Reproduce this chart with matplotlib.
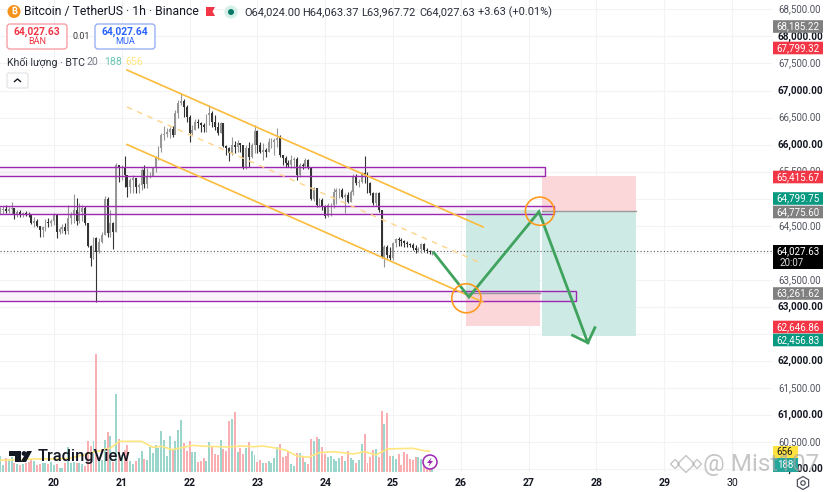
import numpy as np
import matplotlib
matplotlib.use("Agg")
import matplotlib.pyplot as plt
from matplotlib.patches import Rectangle, Ellipse, Circle, FancyBboxPatch, Polygon, RegularPolygon

plt.rcParams['font.family'] = ['Roboto', 'DejaVu Sans']

# hourly candles
closes = [64791,64816,64779,64804,64822,64699,64754,64705,64742,64718,
          64693,64545,64594,64496,64422,64471,64576,64545,64594,64699,
          64391,64434,64471,64397,64637,64699,64791,64594,64761,64822,
          64545,64126,63898,64268,64021,64206,64329,64989,64360,64545,
          64391,65623,65561,65561,65438,65223,65346,65377,65223,65253,
          65531,65272,65407,65420,65561,65746,65931,66177,66196,66239,
          66282,66177,66578,66763,66812,66701,66516,66208,66270,66424,
          66393,66362,66331,66547,66578,66424,66331,66220,66393,65974,
          65931,65839,65993,65962,66024,65993,65593,65932,65778,65993,
          66258,65993,65870,65901,65870,66055,66055,66086,66116,65808,
          65747,65654,65624,65716,65728,65439,65624,65605,65716,65562,
          64989,65192,64884,64977,64854,64681,64884,64884,65131,65162,
          65162,65038,65068,64945,65130,65407,65296,65315,65469,65438,
          65284,65099,64914,65099,64791,63929,64114,63960,63898,64175,
          64249,64237,64224,64187,64163,64151,64083,64052,64064,64157,
          64052,64040,64015,64027]
highs = [64853,64865,64884,64853,64945,64822,64791,64791,64761,64779,
         64754,64718,64656,64619,64496,64496,64619,64637,64631,64730,
         64557,64471,64526,64557,64884,64761,65087,65007,64927,64884,
         64865,64557,64145,64299,64299,64268,64391,65050,65025,64791,
         64576,65666,65623,65623,65789,65346,65377,65438,65377,65284,
         65561,65623,65561,65500,65580,65789,65974,66208,66344,66301,
         66319,66344,66639,66824,66947,66837,66732,66547,66362,66467,
         66467,66424,66393,66565,66732,66627,66547,66424,66424,66393,
         65993,65962,66147,66073,66086,66036,65993,65993,66055,66024,
         66363,66270,66055,66024,65932,66116,66116,66116,66301,66178,
         65808,65792,65716,65808,65778,65778,65654,65654,65747,65728,
         65562,65211,65192,65008,65008,64884,64915,64928,65192,65192,
         65192,65204,65099,65130,65161,65456,65456,65358,65500,65789,
         65500,65315,65130,65130,65130,64791,64144,64144,64114,64206,
         64268,64286,64268,64237,64224,64187,64175,64144,64114,64175,
         64187,64083,64052,64040]
lows = [64718,64718,64730,64742,64718,64619,64668,64668,64668,64681,
        64668,64533,64483,64471,64286,64286,64410,64471,64496,64514,
        64268,64348,64360,64348,64348,64533,64557,64514,64545,64594,
        64514,64101,63757,63886,63097,64003,64175,64329,64286,64299,
        64065,64391,65315,65346,65223,65038,65099,65099,65099,65112,
        65161,65192,65192,65377,65438,65500,65715,65869,66085,66147,
        66116,66134,66301,66485,66732,66516,66424,66054,66177,66270,
        66301,66239,66239,66239,66362,66331,66270,66177,66208,65962,
        65808,65703,65808,65839,65870,65870,65544,65544,65593,65747,
        65839,65852,65839,65716,65778,65870,65932,65808,65962,65778,
        65624,65580,65580,65562,65562,65346,65408,65544,65562,65544,
        64977,64964,64854,64841,64792,64638,64656,64681,64823,64900,
        65008,65007,64730,64914,64945,65068,65253,65222,65284,65284,
        65099,65068,64884,64865,64760,63898,63732,63898,63867,63867,
        64114,64126,64126,64114,64114,64101,64052,64003,64021,64003,
        64021,64003,63978,63966]
volumes = [400,187,357,298,383,238,213,170,213,238,
           255,340,272,187,213,238,238,213,255,170,
           213,110,102,238,638,238,255,238,238,213,
           153,782,672,799,3018,298,298,825,1020,927,
           255,1989,850,442,570,697,289,213,272,366,
           544,340,315,638,485,680,612,1037,808,400,
           927,570,799,1063,1335,740,544,799,502,502,
           255,289,357,289,765,638,468,442,808,587,
           536,1309,1352,1522,502,612,459,604,765,544,
           425,264,306,221,238,272,221,349,646,714,
           374,408,527,204,162,485,485,374,255,204,
           842,791,884,842,646,459,374,408,340,272,
           357,408,272,527,357,306,238,306,714,961,
           238,374,561,578,374,1564,1233,1505,408,408,
           323,459,179,510,451,332,306,391,374,340,
           306,119,68,188]
opens = [64790] + closes[:-1]

ma_hours = [0,12,24,39,41,42,50,54,57,61,68,73,81,85,90,93,98,101,105,109,113,118,125,129,133,137,146,150,152]
ma_vals = [298,332,340,612,722,782,782,629,655,570,680,655,638,663,646,663,604,561,408,374,493,519,459,519,434,587,604,544,527]

day_hours = [19,43,67,91,115,139,163,187,211,235,259]
day_labels = ['20','21','22','23','24','25','26','27','28','29','30']
price_ticks = [68500,68000,67500,67000,66500,66000,65500,65000,64500,64000,63500,63000,62500,62000,61500,61000,60500,60000]
covered_ticks = [65000,64000,62500]  # sit fully behind the price tags

last_price = 64027.63
entry_long, stop_long, target_long = 63261.62, 62646.86, 64799.75
entry_short, stop_short, target_short = 64775.60, 65415.67, 62456.83

zones = [(65586,65420,192.8),(64860,64710,196),(63289,63116,203.8)]
channel_start, channel_end = 44.85, 170.9
channel_top = [67379,64478]
channel_mid = [66695,63794]
channel_low = [66002,63091]
path_hours = [153.5,165.9,190.7,208.0]
path_prices = [64003,63184,64760,62339]
head_hours = [202.6,208.0,210.5]
head_prices = [62476,62339,62617]

W, H = 829, 492
PANE_R, PANE_B = 772, 472
fig = plt.figure(figsize=(W/100, H/100), dpi=100, facecolor='white')

ax = fig.add_axes([0, 1-PANE_B/H, PANE_R/W, PANE_B/H])
ax.set_xlim(-0.1, 273.2)
ax.set_ylim(67000-(PANE_B-90.5)*18.48, 67000+90.5*18.48)
ax.axis('off')
for t in price_ticks:
    ax.axhline(t, color='#f2f3f5', lw=0.8, zorder=0)
for d in day_hours:
    ax.axvline(d, color='#f2f3f5', lw=0.8, zorder=0)

# volume pane shares the x scale
vol = fig.add_axes(ax.get_position(), sharex=ax, facecolor='none')
vol.set_ylim(0, PANE_B*25.5)
vol.axis('off')
hours = np.arange(len(closes))
up = np.array(closes) >= np.array(opens)
vol.bar(hours, volumes, width=0.7, color=np.where(up, '#9ad6cc', '#f9aeb2'), zorder=1)
vol.plot(ma_hours, ma_vals, color='#ffe680', lw=1.2, zorder=2)

# position boxes
ax.add_patch(Rectangle((165, entry_long), 26, target_long-entry_long, fc='#cdeae4', ec='none', zorder=1))
ax.add_patch(Rectangle((165, stop_long), 26, entry_long-stop_long, fc='#fcd7da', ec='none', zorder=1))
ax.plot([165,191], [entry_long,entry_long], color='#9a9a9a', lw=1, zorder=1)
ax.add_patch(Rectangle((191.8, entry_short), 33.2, stop_short-entry_short, fc='#fcd7da', ec='none', zorder=1))
ax.add_patch(Rectangle((191.8, target_short), 33.2, entry_short-target_short, fc='#cdeae4', ec='none', zorder=1))
ax.plot([191.8,225], [entry_short,entry_short], color='#9a9a9a', lw=1, zorder=1)

# candles
colors = np.where(up, '#969696', '#333333')
ax.vlines(hours, lows, highs, colors=colors, lw=0.8, zorder=3)
ax.bar(hours, np.array(closes)-np.array(opens), bottom=opens, width=0.68, color=colors, zorder=3)

ax.axhline(last_price, color='#555555', lw=0.8, ls=(0,(1,2)), zorder=2)

# drawings
for top, bottom, right in zones:
    ax.add_patch(Rectangle((-5, bottom), right+5, top-bottom, fc='#9c27b0', alpha=0.05, ec='none', zorder=2))
    ax.add_patch(Rectangle((-5, bottom), right+5, top-bottom, fc='none', ec='#9c27b0', lw=1.0, zorder=4))

ax.plot([channel_start,channel_end], channel_top, color='#fbbc3c', lw=1.2, zorder=4)
ax.plot([channel_start,channel_end], channel_low, color='#fbbc3c', lw=1.2, zorder=4)
ax.plot([channel_start,channel_end], channel_mid, color='#fdd488', lw=1, ls=(0,(4,4)), zorder=4)
ax.plot(path_hours, path_prices, color='#3fa35d', lw=2, zorder=5, solid_joinstyle='miter')
ax.plot(head_hours, head_prices, color='#3fa35d', lw=2, zorder=5, solid_joinstyle='miter')
ax.add_patch(Ellipse((165, 63160), 10.3, 536, fc='none', ec='#ff9a1f', lw=1.2, zorder=6))
ax.add_patch(Ellipse((191, 64770), 10.2, 520, fc='none', ec='#ff9a1f', lw=1.2, zorder=6))

# chrome in pixel coordinates
ui = fig.add_axes([0, 0, 1, 1], facecolor='none')
ui.set_xlim(0, W)
ui.set_ylim(H, 0)
ui.axis('off')

def box(x0, y0, x1, y1, color, ec='none', r=0):
    ui.add_patch(FancyBboxPatch((x0+r, y0+r), x1-x0-2*r, y1-y0-2*r, boxstyle=f'round,pad={r}', fc=color, ec=ec, lw=0.9, zorder=8))

# price scale
for t in price_ticks:
    if t in covered_ticks:
        continue
    y = (67000-t)/18.48+90.5
    strong = t % 1000 == 0
    ui.text(800, y, f'{t:,.2f}', ha='center', va='center', fontsize=7.2 if strong else 7.0,
            color='#131722' if strong else '#50535e', fontweight='bold' if strong else 'normal', zorder=7)

labels = [('68,185.22', 26.5, '#808080'), ('67,799.32', 48, '#f23645'), ('65,415.67', 177, '#f23645'),
          ('64,799.75', 198.5, '#089981'), ('64,775.60', 212, '#808080'), ('63,261.62', 293.5, '#808080'),
          ('62,646.86', 327, '#f23645'), ('62,456.83', 340, '#089981')]
for txt, y, c in labels:
    box(773, y-6.3, 823, y+6.3, c)
    ui.text(798, y, txt, ha='center', va='center', fontsize=7.0, color='white', zorder=9)
box(773, 245, 823, 269, 'black')
ui.text(798, 251.5, '64,027.63', ha='center', va='center', fontsize=7.0, color='white', zorder=9)
ui.text(780, 263, '20:07', ha='left', va='center', fontsize=7.0, color='#dddddd', zorder=9)
box(773, 446, 798, 458, '#ffe23f')
ui.text(785, 452, '656', ha='center', va='center', fontsize=7.0, color='#131722', zorder=9)
box(773, 458, 798, 472, '#26a69a')
ui.text(785, 465, '188', ha='center', va='center', fontsize=7.0, color='white', zorder=9)

# time scale
for d, lab in zip(day_hours, day_labels):
    x = 0.3+2.825*d
    ui.text(x, 482.5, lab, ha='center', va='center', fontsize=7.6, color='#131722',
            fontweight='bold' if lab != '30' else 'normal', zorder=7)
ui.add_patch(RegularPolygon((803, 483), 6, radius=6.5, fc='none', ec='#50535e', lw=0.9))
ui.add_patch(Circle((803, 483), 2.2, fc='none', ec='#50535e', lw=0.9))

# header
ui.add_patch(Circle((14, 11.5), 6.5, fc='#f7931a', ec='none', zorder=8))
ui.text(14, 11.5, '₿', ha='center', va='center', color='white', fontsize=6.5, fontweight='bold', zorder=9,
        family=['Inter', 'Noto Sans', 'Open Sans', 'DejaVu Sans'])
ui.text(24, 11.5, 'Bitcoin / TetherUS · 1h · Binance', ha='left', va='center', fontsize=8.8, color='#131722')
ui.add_patch(Polygon([(206,7),(215,7),(212.5,11.5),(215,16),(206,16)], fc='#f23645', ec='none'))
ui.add_patch(Circle((231, 12), 6.5, fc='#d5efe9', ec='none'))
ui.add_patch(Circle((231, 12), 3, fc='#067a66', ec='none'))
for x, txt in [(244,'O64,024.00'),(302.5,'H64,063.37'),(361,'L63,967.72'),(419.5,'C64,027.63'),(478,'+3.63 (+0.01%)')]:
    ui.text(x, 12, txt, ha='left', va='center', fontsize=7.9, color='#2a2e39')

box(7, 24, 67, 49, 'white', ec='#f7959c', r=3)
ui.text(37, 32, '64,027.63', ha='center', va='center', fontsize=7.4, color='#f23645', fontweight='bold', zorder=9)
ui.text(37, 42, 'BÁN', ha='center', va='center', fontsize=6.6, color='#f23645', zorder=9)
ui.text(81, 36.5, '0.01', ha='center', va='center', fontsize=6.4, color='#333333', zorder=9)
box(95, 24, 155, 49, 'white', ec='#8fa9f5', r=3)
ui.text(125, 32, '64,027.64', ha='center', va='center', fontsize=7.4, color='#2962ff', fontweight='bold', zorder=9)
ui.text(125, 42, 'MUA', ha='center', va='center', fontsize=6.6, color='#2962ff', zorder=9)
ui.text(7, 62, 'Khối lượng · BTC', ha='left', va='center', fontsize=7.6, color='#2a2e39')
ui.text(87, 62, '20', ha='left', va='center', fontsize=7.6, color='#787b86')
ui.text(104, 62, '188', ha='left', va='center', fontsize=7.6, color='#6cc5b6')
ui.text(125, 62, '656', ha='left', va='center', fontsize=7.6, color='#ffe680')
box(7, 73, 28, 88, 'white', ec='#e3e4e8', r=2)
ui.plot([14.5,17.5,20.5], [81.5,79,81.5], color='#131722', lw=1, zorder=9)

# TradingView logo
ui.add_patch(Polygon([(9,451),(21,451),(21,462),(15,462),(15,456),(9,456)], fc='#131722', ec='none', zorder=8))
ui.add_patch(Circle((24, 453.5), 2.4, fc='#131722', ec='none', zorder=8))
ui.add_patch(Polygon([(27,451),(32,451),(26,462),(20.5,462)], fc='#131722', ec='none', zorder=8))
ui.text(38, 457, 'TradingView', ha='left', va='center', fontsize=11.9, color='#131722', fontweight='medium', zorder=8)

# alert button
ui.add_patch(Circle((430, 462), 7, fc='white', ec='#9c27b0', lw=1.1, zorder=8))
ui.add_patch(Polygon([(431.5,457.5),(427,463),(429.7,463),(428.5,466.5),(433,461),(430.3,461)], fc='#9c27b0', ec='none', zorder=9))

# watermark
for cx, s in [(686,8.5),(675,4.5),(697,4.5)]:
    ui.add_patch(RegularPolygon((cx, 464), 4, radius=s, fc='none', ec='#b8b8b8', lw=1, alpha=0.8, zorder=10))
ui.text(703, 465, '@ Mist107', ha='left', va='center', fontsize=17.5, color='#a8a8a8', alpha=0.65, zorder=10)

fig.savefig('out.png', dpi=100)
